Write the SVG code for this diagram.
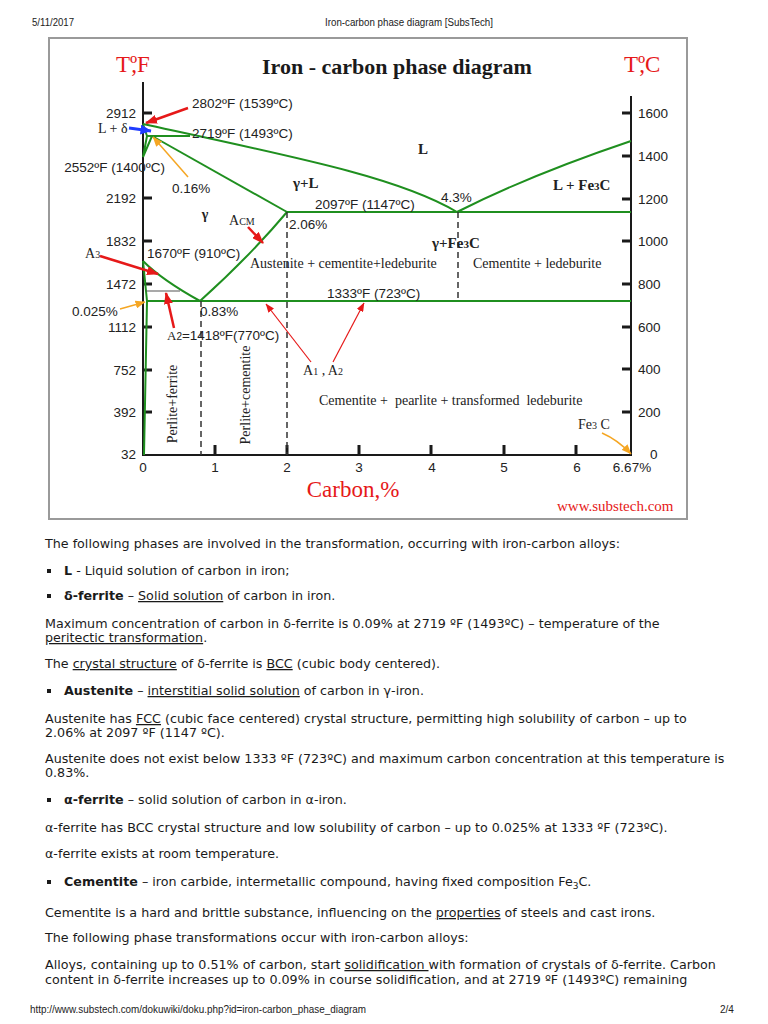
<svg xmlns="http://www.w3.org/2000/svg" width="768" height="1024" viewBox="0 0 768 1024">
<style>
.hdr{font-family:"Liberation Sans",Arial,sans-serif;font-size:10px;fill:#222}
.num{font-family:"Liberation Sans",Arial,sans-serif;font-size:13.5px;fill:#222}
.ser{font-family:"Liberation Serif","Times New Roman",serif;font-size:14px;fill:#222;white-space:pre}
.serb{font-family:"Liberation Serif","Times New Roman",serif;font-size:15px;font-weight:bold;fill:#222}
.red{font-family:"Liberation Serif","Times New Roman",serif;fill:#e61919}
.body{font-family:"DejaVu Sans",Verdana,sans-serif;font-size:12.7px;fill:#1a1a1a}
.b{font-weight:bold}
.u{text-decoration:underline}
.g{fill:none;stroke:#1f8f1f;stroke-width:2}
.ax{stroke:#1a1a1a;stroke-width:2;fill:none}
.tk{stroke:#1a1a1a;stroke-width:3}
.dash{stroke:#333;stroke-width:1.5;stroke-dasharray:6,4;fill:none}
.ra{stroke:#e61919;stroke-width:2.5;fill:none}
.rt{stroke:#e61919;stroke-width:1.2;fill:none}
.oa{stroke:#f5a623;stroke-width:1.5;fill:none}
</style>
<defs>
<marker id="hRed" markerUnits="userSpaceOnUse" markerWidth="12" markerHeight="9" refX="11" refY="4.5" orient="auto"><path d="M0,0 L12,4.5 L0,9 z" fill="#e61919"/></marker>
<marker id="hRedThin" markerUnits="userSpaceOnUse" markerWidth="9" markerHeight="7" refX="8.5" refY="3.5" orient="auto"><path d="M0,0 L9,3.5 L0,7 z" fill="#e61919"/></marker>
<marker id="hOr" markerUnits="userSpaceOnUse" markerWidth="10" markerHeight="8" refX="9.5" refY="4" orient="auto"><path d="M0,0 L10,4 L0,8 z" fill="#f5a623"/></marker>
<marker id="hBlue" markerUnits="userSpaceOnUse" markerWidth="11" markerHeight="10" refX="10.5" refY="5" orient="auto"><path d="M0,0 L11,5 L0,10 z" fill="#1f3cff"/></marker>
</defs>
<rect width="768" height="1024" fill="#fff"/>

<g id="page-header">
<text class="hdr" x="32" y="26" textLength="42" lengthAdjust="spacingAndGlyphs">5/11/2017</text>
<text class="hdr" x="325" y="26" textLength="168" lengthAdjust="spacingAndGlyphs">Iron-carbon phase diagram [SubsTech]</text>
</g>

<g id="diagram-frame">
<rect x="49" y="38" width="638" height="481" fill="none" stroke="#9a9a9a" stroke-width="2"/>
</g>

<g id="titles">
<text class="red" x="116" y="72" font-size="23">T<tspan>º</tspan><tspan dx="-6">,</tspan>F</text>
<text class="red" x="624" y="72" font-size="23">T<tspan>º</tspan><tspan dx="-6">,</tspan>C</text>
<text x="262" y="74" font-family="Liberation Serif,Times New Roman,serif" font-size="22" font-weight="bold" fill="#1a1a1a">Iron - carbon phase diagram</text>
<text class="red" x="353" y="497" font-size="23" text-anchor="middle">Carbon,%</text>
<text class="red" x="557" y="511" font-size="15">www.substech.com</text>
</g>

<g id="axes">
<path class="ax" d="M143,82 V455 H631 V96"/>
<g class="tk">
<path d="M143,113 h9 M143,198 h9 M143,241 h9 M143,284 h9 M143,327 h9 M143,370 h9 M143,412 h9"/>
<path d="M631,113 h-9 M631,156 h-9 M631,199 h-9 M631,241 h-9 M631,284 h-9 M631,327 h-9 M631,369 h-9 M631,412 h-9"/>
<path d="M215,455 v-10 M287,455 v-10 M359,455 v-10 M431,455 v-10 M504,455 v-10 M576,455 v-10"/>
</g>
<g class="num" text-anchor="end">
<text x="136" y="118">2912</text>
<text x="136" y="203">2192</text>
<text x="136" y="246">1832</text>
<text x="136" y="289">1472</text>
<text x="136" y="332">1112</text>
<text x="136" y="375">752</text>
<text x="136" y="417">392</text>
<text x="136" y="459">32</text>
</g>
<g class="num">
<text x="638" y="118">1600</text>
<text x="638" y="161">1400</text>
<text x="638" y="204">1200</text>
<text x="638" y="246">1000</text>
<text x="638" y="289">800</text>
<text x="638" y="332">600</text>
<text x="638" y="374">400</text>
<text x="638" y="417">200</text>
<text x="650" y="459">0</text>
</g>
<g class="num" text-anchor="middle">
<text x="143" y="472">0</text>
<text x="215" y="472">1</text>
<text x="287" y="472">2</text>
<text x="359" y="472">3</text>
<text x="432" y="472">4</text>
<text x="504" y="472">5</text>
<text x="577" y="472">6</text>
<text x="632" y="472">6.67%</text>
</g>
</g>

<g id="phase-lines">
<path class="g" d="M143,124 C300,158 400,178 457,212"/>
<path class="g" d="M457,212 Q530,175 631,141"/>
<path class="g" d="M287,212 H631"/>
<path class="g" d="M147,301 H631"/>
<path class="g" d="M143,124 L147,136 L143,157 L152,136"/>
<path class="g" d="M147,136 H190"/>
<path class="g" d="M152,136 L287,212"/>
<path class="g" d="M287,212 Q250,256 200,301"/>
<path class="g" d="M143,261 Q162,280 200,301"/>
<path class="g" d="M143,261 L147,301 Q145,400 144,455"/>
<path d="M146,291 H180" stroke="#555" stroke-width="1.2"/>
</g>

<g id="dashed-lines">
<path class="dash" d="M201,301 V455"/>
<path class="dash" d="M287,212 V455"/>
<path class="dash" d="M458,212 V301"/>
</g>

<g id="region-labels">
<text class="num" x="192" y="108">2802ºF (1539ºC)</text>
<text class="num" x="192" y="138">2719ºF (1493ºC)</text>
<text class="num" x="165" y="172" text-anchor="end">2552ºF (1400ºC)</text>
<text class="num" x="172" y="193">0.16%</text>
<text class="ser" x="98" y="133">L + δ</text>
<text class="ser" x="205" y="219" font-size="16" text-anchor="middle" font-weight="bold">γ</text>
<text class="ser" x="229" y="225">A<tspan font-size="10">CM</tspan></text>
<text class="serb" x="293" y="188">γ+L</text>
<text class="num" x="315" y="209">2097ºF (1147ºC)</text>
<text class="num" x="289" y="229">2.06%</text>
<text class="serb" x="418" y="154">L</text>
<text class="num" x="441" y="202">4.3%</text>
<text class="serb" x="553" y="190">L + Fe<tspan font-size="11">3</tspan>C</text>
<text class="serb" x="432" y="248">γ+Fe<tspan font-size="11">3</tspan>C</text>
<text class="ser" x="250" y="268">Austenite + cementite+ledeburite</text>
<text class="ser" x="473" y="268">Cementite + ledeburite</text>
<text class="num" x="327" y="298">1333ºF (723ºC)</text>
<text class="num" x="147" y="258">1670ºF (910ºC)</text>
<text class="ser" x="85" y="258" font-size="12">A<tspan font-size="10">3</tspan></text>
<text class="num" x="72" y="316">0.025%</text>
<text class="num" x="200" y="316">0.83%</text>
<text class="num" x="167" y="340"><tspan font-family="Liberation Serif,serif" font-size="13">A</tspan><tspan font-size="10">2</tspan>=1418ºF(770ºC)</text>
<text class="ser" x="303" y="375" font-size="12">A<tspan font-size="10">1</tspan> , A<tspan font-size="10">2</tspan></text>
<text class="ser" x="319" y="405">Cementite +  pearlite + transformed  ledeburite</text>
<text class="ser" x="578" y="429" font-size="12">Fe<tspan font-size="10">3</tspan> C</text>
<text class="ser" font-size="15" text-anchor="middle" transform="translate(177,404) rotate(-90)">Perlite+ferrite</text>
<text class="ser" font-size="15" text-anchor="middle" transform="translate(250,395) rotate(-90)">Perlite+cementite</text>
</g>

<g id="connectors">
<line class="ra" x1="188" y1="108" x2="146" y2="123" marker-end="url(#hRed)"/>
<line x1="129" y1="128" x2="151" y2="131" stroke="#1f3cff" stroke-width="3" marker-end="url(#hBlue)"/>
<line class="oa" x1="188" y1="177" x2="153" y2="137" marker-end="url(#hOr)"/>
<line class="ra" x1="248" y1="227" x2="263" y2="243" marker-end="url(#hRed)"/>
<line class="ra" x1="100" y1="256" x2="158" y2="274" marker-end="url(#hRed)"/>
<line class="ra" x1="174" y1="328" x2="166" y2="293" marker-end="url(#hRed)"/>
<line class="oa" x1="120" y1="309" x2="145" y2="302" marker-end="url(#hOr)"/>
<line class="rt" x1="311" y1="362" x2="266" y2="304" marker-end="url(#hRedThin)"/>
<line class="rt" x1="333" y1="362" x2="364" y2="303" marker-end="url(#hRedThin)"/>
<path class="oa" d="M602,433 Q618,440 631,454" marker-end="url(#hOr)"/>
</g>

<g id="body-text" class="body">
<text x="45" y="548">The following phases are involved in the transformation, occurring with iron-carbon alloys:</text>
<rect x="47" y="569" width="4" height="4" fill="#1a1a1a"/>
<text x="64" y="575"><tspan class="b">L</tspan> - Liquid solution of carbon in iron;</text>
<rect x="47" y="594" width="4" height="4" fill="#1a1a1a"/>
<text x="64" y="600"><tspan class="b">δ-ferrite</tspan> – <tspan class="u">Solid solution</tspan> of carbon in iron.</text>
<text x="45" y="628">Maximum concentration of carbon in δ-ferrite is 0.09% at 2719 ºF (1493ºC) – temperature of the</text>
<text x="45" y="642"><tspan class="u">peritectic transformation</tspan>.</text>
<text x="45" y="668">The <tspan class="u">crystal structure</tspan> of δ-ferrite is <tspan class="u">BCC</tspan> (cubic body centered).</text>
<rect x="47" y="689" width="4" height="4" fill="#1a1a1a"/>
<text x="64" y="695"><tspan class="b">Austenite</tspan> – <tspan class="u">interstitial solid solution</tspan> of carbon in γ-iron.</text>
<text x="45" y="723">Austenite has <tspan class="u">FCC</tspan> (cubic face centered) crystal structure, permitting high solubility of carbon – up to</text>
<text x="45" y="737">2.06% at 2097 ºF (1147 ºC).</text>
<text x="45" y="763">Austenite does not exist below 1333 ºF (723ºC) and maximum carbon concentration at this temperature is</text>
<text x="45" y="777">0.83%.</text>
<rect x="47" y="798" width="4" height="4" fill="#1a1a1a"/>
<text x="64" y="804"><tspan class="b">α-ferrite</tspan> – solid solution of carbon in α-iron.</text>
<text x="45" y="832">α-ferrite has BCC crystal structure and low solubility of carbon – up to 0.025% at 1333 ºF (723ºC).</text>
<text x="45" y="858">α-ferrite exists at room temperature.</text>
<rect x="47" y="880" width="4" height="4" fill="#1a1a1a"/>
<text x="64" y="886"><tspan class="b">Cementite</tspan> – iron carbide, intermetallic compound, having fixed composition Fe<tspan font-size="9" dy="3">3</tspan><tspan dy="-3">C.</tspan></text>
<text x="45" y="917">Cementite is a hard and brittle substance, influencing on the <tspan class="u">properties</tspan> of steels and cast irons.</text>
<text x="45" y="942">The following phase transformations occur with iron-carbon alloys:</text>
<text x="45" y="969">Alloys, containing up to 0.51% of carbon, start <tspan class="u">solidification </tspan>with formation of crystals of δ-ferrite. Carbon</text>
<text x="45" y="984">content in δ-ferrite increases up to 0.09% in course solidification, and at 2719 ºF (1493ºC) remaining</text>
</g>

<g id="page-footer">
<text class="hdr" x="30" y="1013" textLength="336" lengthAdjust="spacingAndGlyphs">http://www.substech.com/dokuwiki/doku.php?id=iron-carbon_phase_diagram</text>
<text class="hdr" x="720" y="1013">2/4</text>
</g>
</svg>
